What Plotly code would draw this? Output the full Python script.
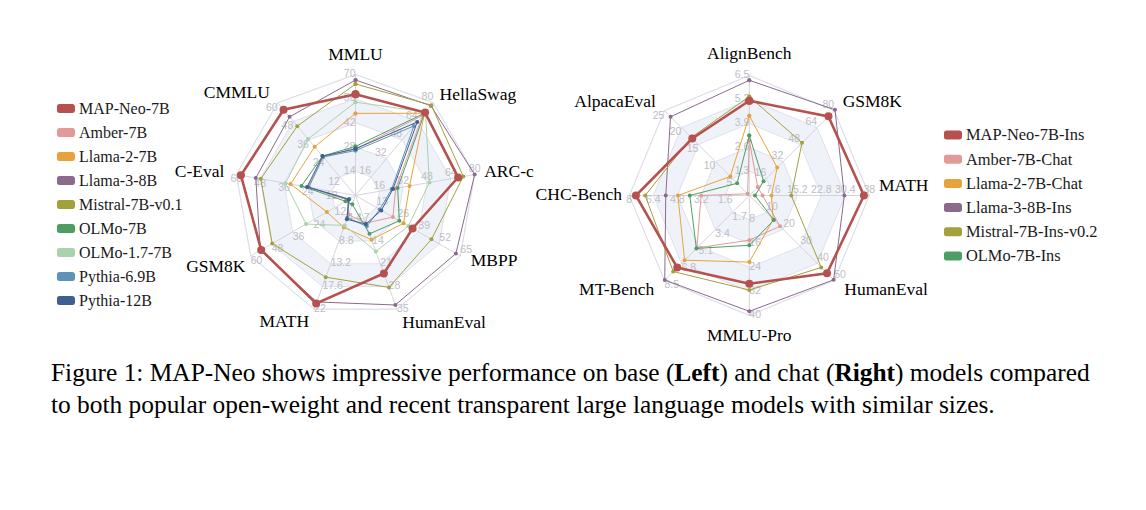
import plotly.graph_objects as go

# page is rendered with an 8px body margin; work in page pixels and convert
PAGE_W, PAGE_H = 1146, 510
OFF = 8
W, H = PAGE_W - 2 * OFF, PAGE_H - 2 * OFF

# ---------------- data: left (base models) ----------------
left_axes = ["MMLU", "HellaSwag", "ARC-c", "MBPP", "HumanEval", "MATH", "GSM8K", "C-Eval", "CMMLU"]
left_max = [70, 80, 80, 65, 35, 22, 60, 60, 60]
left_ticks = [
    ["14", "28", "42", "56", "70"],
    ["16", "32", "48", "64", "80"],
    ["16", "32", "48", "64", "80"],
    ["13", "26", "39", "52", "65"],
    ["7", "14", "21", "28", "35"],
    ["4.4", "8.8", "13.2", "17.6", "22"],
    ["12", "24", "36", "48", "60"],
    ["12", "24", "36", "48", "60"],
    ["12", "24", "36", "48", "60"],
]
left_models = ["MAP-Neo-7B", "Amber-7B", "Llama-2-7B", "Llama-3-8B", "Mistral-7B-v0.1",
               "OLMo-7B", "OLMo-1.7-7B", "Pythia-6.9B", "Pythia-12B"]
left_values = {
    "MAP-Neo-7B":      [58.6, 71.6, 68.9, 35.4, 24.0, 20.9, 54.0, 57.7, 55.5],
    "Amber-7B":        [27.0, 69.0, 27.0, 23.2, 8.5, 3.7, 4.5, 24.0, 25.0],
    "Llama-2-7B":      [47.5, 71.0, 36.3, 29.8, 13.6, 6.2, 16.4, 32.7, 31.5],
    "Llama-3-8B":      [66.8, 77.5, 80.0, 62.3, 33.7, 20.6, 54.5, 50.2, 50.9],
    "Mistral-7B-v0.1": [64.5, 78.0, 72.4, 47.1, 28.3, 15.8, 47.7, 47.7, 44.9],
    "OLMo-7B":         [28.4, 71.0, 28.3, 27.2, 11.8, 1.7, 5.7, 27.2, 25.5],
    "OLMo-1.7-7B":     [54.0, 72.0, 49.6, 32.8, 17.2, 5.8, 28.3, 35.2, 36.6],
    "Pythia-6.9B":     [26.0, 60.0, 24.3, 15.0, 9.5, 4.3, 3.5, 23.5, 25.0],
    "Pythia-12B":      [27.0, 63.5, 25.2, 16.0, 8.8, 4.6, 3.9, 24.4, 25.5],
}

# ---------------- data: right (chat models) ----------------
right_axes = ["AlignBench", "GSM8K", "MATH", "HumanEval", "MMLU-Pro", "MT-Bench", "CHC-Bench", "AlpacaEval"]
right_max = [6.5, 80, 38, 50, 40, 8.5, 8, 25]
right_ticks = [
    ["1.3", "2.6", "3.9", "5.2", "6.5"],
    ["16", "32", "48", "64", "80"],
    ["7.6", "15.2", "22.8", "30.4", "38"],
    ["10", "20", "30", "40", "50"],
    ["8", "16", "24", "32", "40"],
    ["1.7", "3.4", "5.1", "6.8", "8.5"],
    ["1.6", "3.2", "4.8", "6.4", "8"],
    ["5", "10", "15", "20", "25"],
]
right_models = ["MAP-Neo-7B-Ins", "Amber-7B-Chat", "Llama-2-7B-Chat", "Llama-3-8B-Ins",
                "Mistral-7B-Ins-v0.2", "OLMo-7B-Ins"]
right_values = {
    "MAP-Neo-7B-Ins":      [5.13, 74.6, 36.3, 45.8, 29.4, 7.22, 7.56, 16.8],
    "Amber-7B-Chat":       [2.98, 7.9, 4.2, 18.1, 14.9, 5.25, 3.21, 0.5],
    "Llama-2-7B-Chat":     [4.32, 26.3, 7.0, 14.1, 22.2, 6.48, 4.76, 5.6],
    "Llama-3-8B-Ins":      [6.24, 80.8, 30.1, 49.7, 38.6, 8.47, 5.57, 23.2],
    "Mistral-7B-Ins-v0.2": [5.36, 49.7, 13.3, 42.4, 31.5, 7.62, 6.94, 17.1],
    "OLMo-7B-Ins":         [3.25, 13.5, 1.8, 14.5, 16.6, 5.3, 3.97, 3.6],
}

left_colors = ["#b5524f", "#e29a98", "#e8a23c", "#8b6a8c", "#a3a03e",
               "#4e9e63", "#a9d2ad", "#5f92b8", "#3f5f8f"]
right_colors = left_colors[:6]

# ---------------- styles: label placement ----------------
left_tpos = ["middle left", "top left", "top center", "top right", "middle right",
             "middle right", "bottom right", "bottom center", "bottom left"]
right_tpos = ["middle left", "top left", "top center", "top right", "middle right",
              "bottom right", "bottom center", "bottom left"]
left_name_r = [1.16, 1.08, 1.08, 1.10, 1.13, 1.12, 1.05, 1.10, 1.10]
left_name_pos = ["middle center", "middle right", "middle right", "middle right", "middle right",
                 "middle left", "bottom left", "middle left", "middle left"]
right_name_r = [1.17, 1.10, 1.08, 1.12, 1.18, 1.12, 1.06, 1.10]
right_name_pos = ["middle center", "middle right", "top right", "middle right", "middle center",
                  "middle left", "middle left", "middle left"]

caption1 = "Figure 1: MAP-Neo shows impressive performance on base (<b>Left</b>) and chat (<b>Right</b>) models compared"
caption2 = "to both popular open-weight and recent transparent large language models with similar sizes."

fig = go.Figure()
SERIF = "Liberation Serif"
BAND = "rgba(188,198,228,0.22)"
RMAX = 1.22  # radial range beyond the outer ring leaves room for the axis names


def PX(x):
    return (x - OFF) / W


def PY(y):
    return 1 - (y - OFF) / H


def add_radar(subplot, axes, maxes, ticks, models, values, colors, tpos, name_r, name_pos):
    cats = axes
    for lo, hi in [(0.2, 0.4), (0.6, 0.8)]:
        th = cats + [cats[0]] + [cats[0]] + cats[::-1]
        rr = [hi] * (len(cats) + 1) + [lo] * (len(cats) + 1)
        fig.add_trace(go.Scatterpolar(r=rr, theta=th, mode="lines", fill="toself",
                                      fillcolor=BAND, line=dict(width=0, color="rgba(0,0,0,0)"),
                                      hoverinfo="skip", showlegend=False, subplot=subplot))
    fig.add_trace(go.Scatterpolar(r=[1.0] * (len(cats) + 1), theta=cats + [cats[0]], mode="lines",
                                  line=dict(color="#dcdfe9", width=1),
                                  hoverinfo="skip", showlegend=False, subplot=subplot))
    for cat in cats:
        fig.add_trace(go.Scatterpolar(r=[0, 1.0], theta=[cat, cat], mode="lines",
                                      line=dict(color="#cbcbd0", width=0.8),
                                      hoverinfo="skip", showlegend=False, subplot=subplot))
    for i, cat in enumerate(cats):
        fig.add_trace(go.Scatterpolar(r=[0.2, 0.4, 0.6, 0.8, 1.0], theta=[cat] * 5,
                                      mode="text", text=ticks[i], textposition=tpos[i],
                                      textfont=dict(family="Liberation Sans", size=10.5, color="#bdbdc6"),
                                      hoverinfo="skip", showlegend=False, subplot=subplot))
    order = list(range(1, len(models))) + [0]
    for k in order:
        name = models[k]
        vals = values[name]
        r = [v / m for v, m in zip(vals, maxes)]
        main = k == 0
        fig.add_trace(go.Scatterpolar(
            r=r + [r[0]], theta=cats + [cats[0]], name=name, mode="lines+markers",
            line=dict(color=colors[k], width=2.6 if main else 1.0),
            marker=dict(color=colors[k], size=8 if main else 4),
            showlegend=False, subplot=subplot))
    fig.add_trace(go.Scatterpolar(r=name_r, theta=cats, mode="text", text=cats,
                                  textposition=name_pos, cliponaxis=False,
                                  textfont=dict(family=SERIF, size=17.5, color="black"),
                                  hoverinfo="skip", showlegend=False, subplot=subplot))


add_radar("polar", left_axes, left_max, left_ticks, left_models, left_values, left_colors,
          left_tpos, left_name_r, left_name_pos)
add_radar("polar2", right_axes, right_max, right_ticks, right_models, right_values, right_colors,
          right_tpos, right_name_r, right_name_pos)


def polar_layout(cx, cy, R, cats):
    Rt = R * RMAX
    return dict(
        domain=dict(x=[PX(cx - Rt), PX(cx + Rt)], y=[PY(cy + Rt), PY(cy - Rt)]),
        bgcolor="rgba(0,0,0,0)",
        gridshape="linear",
        radialaxis=dict(range=[0, RMAX], tickvals=[0.2, 0.4, 0.6, 0.8, 1.0], showticklabels=False,
                        ticks="", showline=False, gridcolor="#e4e6ef", gridwidth=1),
        angularaxis=dict(type="category", categoryorder="array", categoryarray=cats,
                         rotation=90, direction="clockwise", showline=False,
                         showgrid=False, ticks="", showticklabels=False),
    )


shapes = []
annotations = []


def rounded(x0, y0, x1, y1, rad, color):
    def P(x, y):
        return f"{PX(x):.5f},{PY(y):.5f}"
    path = (f"M{P(x0 + rad, y0)} L{P(x1 - rad, y0)} Q{P(x1, y0)} {P(x1, y0 + rad)} "
            f"L{P(x1, y1 - rad)} Q{P(x1, y1)} {P(x1 - rad, y1)} L{P(x0 + rad, y1)} "
            f"Q{P(x0, y1)} {P(x0, y1 - rad)} L{P(x0, y0 + rad)} Q{P(x0, y0)} {P(x0 + rad, y0)} Z")
    return dict(type="path", xref="paper", yref="paper", path=path,
                fillcolor=color, line=dict(width=0))


def legend(models, colors, x_sw, y0, dy, fs):
    for i, (m, c) in enumerate(zip(models, colors)):
        yc = y0 + i * dy
        shapes.append(rounded(x_sw, yc - 4.5, x_sw + 18, yc + 4.5, 2.5, c))
        annotations.append(dict(x=PX(x_sw + 20), y=PY(yc), xref="paper", yref="paper",
                                text=m, showarrow=False, xanchor="left", yanchor="middle",
                                font=dict(family=SERIF, size=fs, color="#1a1a1a")))


legend(left_models, left_colors, 57, 108.5, 24.0, 16)
legend(right_models, right_colors, 944, 135, 24.2, 16.4)

annotations.append(dict(x=PX(50), y=PY(388.5), xref="paper", yref="paper", text=caption1,
                        showarrow=False, xanchor="left", yanchor="bottom", borderpad=0,
                        font=dict(family=SERIF, size=25.4, color="black")))
annotations.append(dict(x=PX(50), y=PY(388.5), xref="paper", yref="paper", text=caption2,
                        showarrow=False, xanchor="left", yanchor="top", borderpad=0,
                        font=dict(family=SERIF, size=25.4, color="black")))

fig.update_layout(
    width=W, height=H, margin=dict(l=0, r=0, t=0, b=0),
    paper_bgcolor="white", plot_bgcolor="white",
    polar=polar_layout(355.5, 195.5, 121, left_axes),
    polar2=polar_layout(749.3, 195.5, 120, right_axes),
    shapes=shapes, annotations=annotations, showlegend=False,
)

fig.write_html("out.html")
